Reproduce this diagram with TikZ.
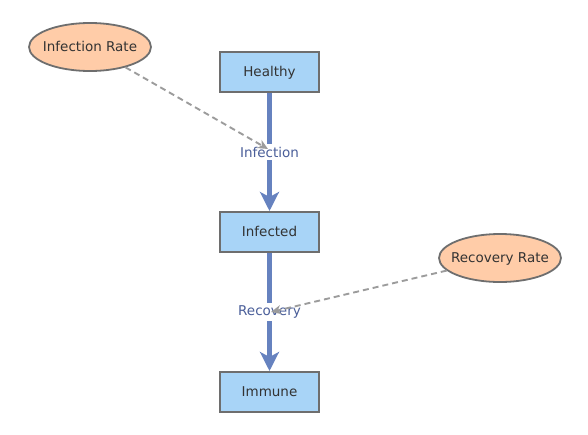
\documentclass[tikz,border=0pt]{standalone}
\usepackage{fontspec}
\setmainfont{DejaVu Sans}
\usetikzlibrary{arrows.meta}
\usetikzlibrary{shapes.geometric}
\definecolor{stockfill}{HTML}{A8D4F7}
\definecolor{ratefill}{HTML}{FFCCA8}
\definecolor{edgegray}{HTML}{6E6E6E}
\definecolor{flowblue}{HTML}{6682BF}
\definecolor{flowtext}{HTML}{4A5E99}
\definecolor{linkgray}{HTML}{9C9C9C}
\tikzstyle{stock}=[draw=edgegray, line width=2pt, fill=stockfill, minimum width=99pt, minimum height=40pt, text height=10pt, text depth=1pt, font=\fontsize{13.5}{15}\selectfont, text=black!80]
\tikzstyle{rate}=[ellipse, draw=edgegray, line width=1.8pt, fill=ratefill, minimum width=122pt, minimum height=48pt, inner xsep=-15pt, inner ysep=0pt, text height=10pt, text depth=1pt, font=\fontsize{13.5}{15}\selectfont, text=black!80]
\tikzstyle{flow}=[flowblue, line width=4.2pt, -{Stealth[length=19pt, width=19pt, inset=5pt]}]
\tikzstyle{flow label}=[fill=white, inner sep=2.5pt, text=flowtext, font=\fontsize{13.5}{15}\selectfont]
\tikzstyle{link}=[linkgray, line width=1.9pt, dash pattern=on 6pt off 4pt, -{Stealth[length=10pt, width=9pt, inset=3pt]}]

\begin{document}
\begin{tikzpicture}[x=1pt, y=-1pt]
          \useasboundingbox (0, 0) rectangle (588, 434);

          \node[stock] (healthy) at (269.5, 72) {Healthy};
          \node[stock] (infected) at (269.5, 232) {Infected};
          \node[stock] (immune) at (269.5, 392) {Immune};

          \node[rate] (infectionrate) at (90, 47) {Infection Rate};
          \node[rate] (recoveryrate) at (500, 258) {Recovery Rate};

          \draw[flow] (healthy) -- node[flow label] (infection) {Infection} (infected);
          \draw[flow] (infected) -- node[flow label] (recovery) {Recovery} (immune);

          \coordinate (infectionin) at (268, 149);
          \coordinate (recoveryin) at (271, 312);
          \draw[link] (infectionrate) -- (infectionin);
          \draw[link] (recoveryrate) -- (recoveryin);
        \end{tikzpicture}
\end{document}
